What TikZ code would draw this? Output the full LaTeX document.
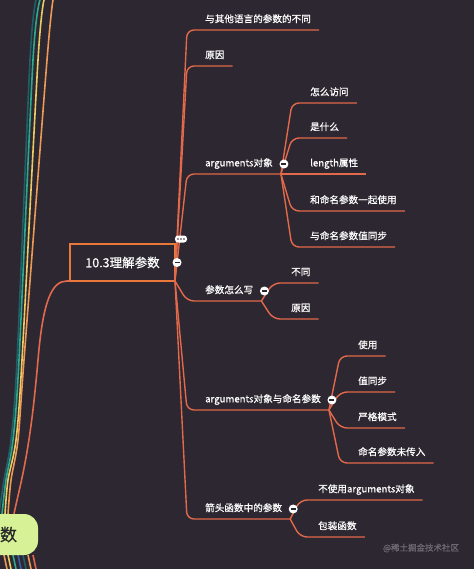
\documentclass[tikz,border=0pt]{standalone}
\usepackage{fontspec}
\setmainfont{Noto Sans CJK SC}[FakeBold=0.6]
\usetikzlibrary{positioning,calc}
\definecolor{bgdark}{HTML}{2C2730}
\definecolor{branchred}{HTML}{E2694B}
\definecolor{rootorange}{HTML}{E9783A}
\definecolor{limegreen}{HTML}{D6F196}
\definecolor{darkteal}{HTML}{1F5F66}
\definecolor{tealline}{HTML}{2EA88F}
\definecolor{yellowline}{HTML}{EBCB64}
\definecolor{orangeline}{HTML}{EE9A57}
\definecolor{blueline}{HTML}{3A5FA8}
\definecolor{marktext}{HTML}{6E6972}
\tikzset{topic/.style={anchor=south west,inner xsep=8pt,inner ysep=5.4pt,text height=8pt,text depth=2pt,
    font=\fontsize{9.6}{11}\selectfont,text=white},
  rootbox/.style={draw=rootorange,line width=1.5pt,minimum width=105pt,minimum height=37pt,inner sep=0pt,
    outer sep=0pt,font=\fontsize{12.5}{14}\selectfont,text=white},
  branch/.style={draw=branchred,line width=1.4pt,rounded corners=7pt},
  trunk/.style={line width=1.6pt},
  fold/.style={circle,fill=white,minimum size=9pt,inner sep=0pt,
    path picture={\draw[bgdark,line width=1.3pt] ($(path picture bounding box.west)+(2pt,0)$) -- ($(path picture bounding box.east)+(-2pt,0)$);}},
  pill/.style={rounded corners=3pt,fill=white,minimum width=12pt,minimum height=7pt,inner sep=0pt}}

\begin{document}
\begin{tikzpicture}[x=1pt,y=-1pt]
\fill[bgdark] (0,0) rectangle (474,569);
\useasboundingbox (0,0) rectangle (474,569);
% left trunk bundle
\draw[trunk,darkteal] plot[smooth] coordinates {(36,0) (30,60) (17,360) (11,440) (4,480) (-1,514)};
\draw[trunk,tealline] plot[smooth] coordinates {(40,0) (33,60) (19,360) (13,440) (6,480) (2,514)};
\draw[trunk,yellowline] plot[smooth] coordinates {(44,0) (38,60) (22,360) (16,440) (8,480) (5,514)};
\draw[trunk,orangeline] plot[smooth] coordinates {(53,0) (47,60) (24,360) (18,440) (11,480) (8,514)};
\foreach \x/\c in {4/orangeline,8/yellowline,13/tealline,18/blueline,23/darkteal,28/orangeline,33/branchred}
  \draw[trunk,\c] (\x,555) -- (\x+3,569);
\node[fill=limegreen,rounded corners=14pt,text width=60pt,align=right,inner xsep=21pt,minimum height=41pt,
  font=\fontsize{17}{18}\selectfont,text=black!85] (shu) at (-13,534.5) {数};

% main topic
\node[rootbox] (root) at (122.5,262.5) {10.3理解参数};
\draw[trunk,branchred] (root.south west) -- ++(-3,0) .. controls (52,281) and (43,300) .. (38,360)
  .. controls (34,405) and (30,440) .. (22,478) .. controls (19,492) and (16,504) .. (shu.north east -| 14,0);

% subtopics
\node[topic] (diff) at (197,30) {与其他语言的参数的不同};
\node[topic] (why) at (197,66) {原因};
\node[topic] (argobj) at (197,174) {arguments对象};
\node[topic] (howto) at (197,301) {参数怎么写};
\node[topic] (argnamed) at (197,410) {arguments对象与命名参数};
\node[topic] (arrowfn) at (197,519) {箭头函数中的参数};
\foreach \n in {diff,why,argobj,howto,argnamed,arrowfn}
  \draw[branch] (root.south east) -- ([xshift=-10pt]\n.south west) -- (\n.south east);

% arguments对象
\node[topic] (visit) at (302,103) {怎么访问};
\node[topic] (what) at (302,138) {是什么};
\node[topic] (len) at (302,174) {length属性};
\node[topic] (together) at (302,211) {和命名参数一起使用};
\node[topic] (sync) at (302,247) {与命名参数值同步};
\foreach \n in {visit,what,len,together,sync}
  \draw[branch] (argobj.south east) -- ([xshift=-10pt]\n.south west) -- (\n.south east);

% 参数怎么写
\node[topic] (diffb) at (283,283) {不同};
\node[topic] (whyb) at (283,319) {原因};
\foreach \n in {diffb,whyb}
  \draw[branch] (howto.south east) -- ([xshift=-10pt]\n.south west) -- (\n.south east);

% arguments对象与命名参数
\node[topic] (use) at (350,356) {使用};
\node[topic] (valsync) at (350,392) {值同步};
\node[topic] (strict) at (350,428) {严格模式};
\node[topic] (unpassed) at (350,463) {命名参数未传入};
\foreach \n in {use,valsync,strict,unpassed}
  \draw[branch] (argnamed.south east) -- ([xshift=-10pt]\n.south west) -- (\n.south east);

% 箭头函数中的参数
\node[topic] (noargs) at (310,500) {不使用arguments对象};
\node[topic] (wrap) at (310,537) {包装函数};
\foreach \n in {noargs,wrap}
  \draw[branch] (arrowfn.south east) -- ([xshift=-10pt]\n.south west) -- (\n.south east);

% fold markers
\node[fold] at ([xshift=2pt]root.east) {};
\node[pill] (more) at ([xshift=6pt,yshift=5pt]root.north east) {};
\foreach \d in {-3,0,3} \fill[bgdark] ([xshift=\d pt]more.center) circle (0.9pt);
\foreach \n in {argobj,howto,argnamed,arrowfn}
  \node[fold] at ([xshift=3pt,yshift=10pt]\n.south east) {};

\node[text=marktext,font=\fontsize{8.5}{10}\selectfont] (mark) at (421,548) {@稀土掘金技术社区};
\end{tikzpicture}
\end{document}
